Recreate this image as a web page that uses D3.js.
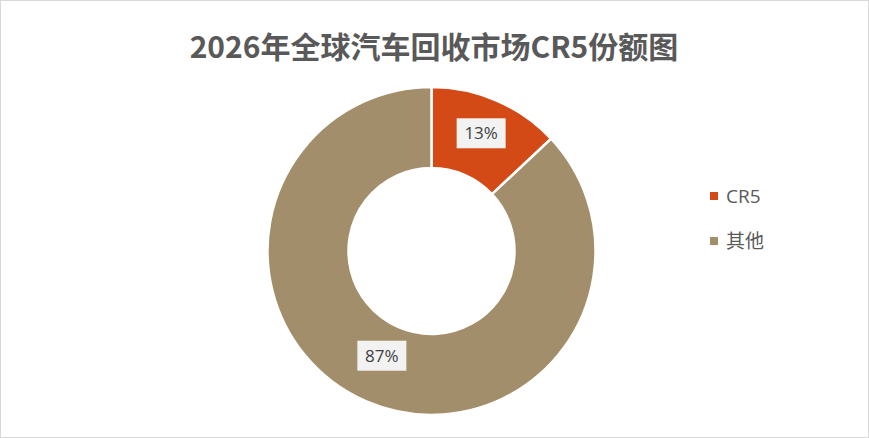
<!DOCTYPE html>
<html>
<head>
<meta charset="utf-8">
<script src="https://cdn.jsdelivr.net/npm/d3@7"></script>
<style>
  body { margin: 0; background: #fff; }
</style>
</head>
<body>
<div id="chart"></div>
<script>
// Data
const categories = ["CR5", "其他"];
const values = [13, 87];
const colors = ["#D34A17", "#A38E6B"];
const titleText = "2026年全球汽车回收市场CR5份额图";

// Dimensions
const w = 869;
const h = 438;
const cx = 431.5;
const cy = 251;
const rOuter = 164;
const rInner = 83;

const svg = d3.select("#chart")
    .append("svg")
    .attr("width", w)
    .attr("height", h);

// Chart border
svg.append("rect")
    .attr("x", 0.5)
    .attr("y", 0.5)
    .attr("width", w - 1)
    .attr("height", h - 1)
    .attr("fill", "#fff")
    .attr("stroke", "#D9D9D9");

// Title
svg.append("text")
    .attr("x", 434)
    .attr("y", 58)
    .attr("text-anchor", "middle")
    .style("font-family", "'Noto Sans CJK SC', 'Open Sans', sans-serif")
    .style("font-weight", "bold")
    .style("font-size", "30px")
    .attr("fill", "#595959")
    .text(titleText);

const data = categories.map((c, i) => ({ name: c, value: values[i] }));

const pie = d3.pie()
    .sort(null)
    .value(d => d.value);

const arc = d3.arc()
    .innerRadius(rInner)
    .outerRadius(rOuter);

const labelArc = d3.arc()
    .innerRadius(122)
    .outerRadius(128);

const g = svg.append("g")
    .attr("transform", "translate(" + cx + "," + cy + ")");

const arcs = pie(data);

g.selectAll("path")
    .data(arcs)
    .enter()
    .append("path")
    .attr("d", arc)
    .attr("fill", (d, i) => colors[i])
    .attr("stroke", "#fff")
    .style("stroke-width", "2.5px");

// Data labels
const labels = g.selectAll(".label")
    .data(arcs)
    .enter()
    .append("g")
    .attr("class", "label")
    .attr("transform", function(d, i) {
        const c = labelArc.centroid(d);
        const dy = i === 0 ? -3 : -10;
        return "translate(" + c[0] + "," + (c[1] + dy) + ")";
    });

labels.append("rect")
    .attr("x", -24.5)
    .attr("y", -15)
    .attr("width", 49)
    .attr("height", 30)
    .attr("fill", "#F2F2F2");

labels.append("text")
    .attr("text-anchor", "middle")
    .attr("dy", "0.36em")
    .style("font-family", "'Open Sans', 'Noto Sans', sans-serif")
    .style("font-size", "17px")
    .attr("fill", "#404040")
    .text(d => d.data.value + "%");

// Legend
const legend = svg.selectAll(".legend")
    .data(categories)
    .enter()
    .append("g")
    .attr("class", "legend")
    .attr("transform", (d, i) => "translate(710," + (196 + i * 45) + ")");

legend.append("rect")
    .attr("x", 0)
    .attr("y", -4)
    .attr("width", 8)
    .attr("height", 8)
    .attr("fill", (d, i) => colors[i]);

legend.append("text")
    .attr("x", 16)
    .attr("dy", "0.35em")
    .style("font-family", "'Open Sans', 'Noto Sans CJK SC', sans-serif")
    .style("font-size", "19px")
    .attr("fill", "#595959")
    .text(d => d);
</script>
</body>
</html>
